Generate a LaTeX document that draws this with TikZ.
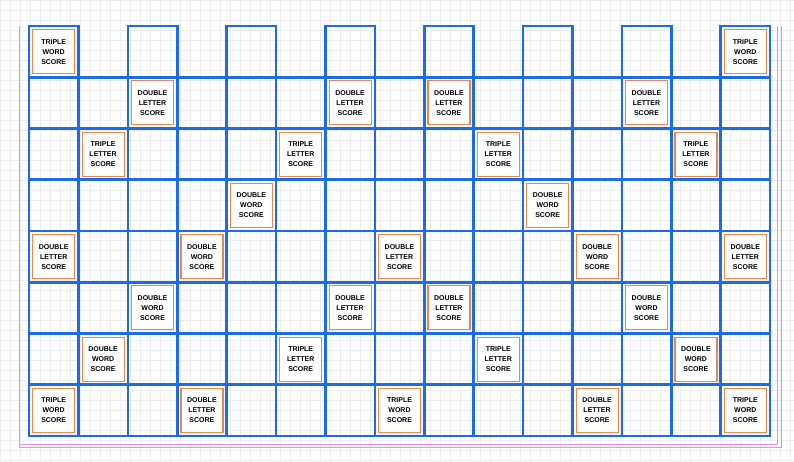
\documentclass[tikz,border=0pt]{standalone}
\usepackage{fontspec}
\setmainfont{Liberation Sans}
\begin{document}
\begin{tikzpicture}[x=1pt,y=-1pt,
  cellline/.style={draw=bblue,line width=2.6pt},
  prem/.style={draw=borange,line width=1.2pt,fill=white,minimum width=42pt,minimum height=44pt,inner sep=0pt,align=center,font=\fontsize{7}{10}\selectfont\bfseries}]
\definecolor{bblue}{RGB}{28,108,232}
\definecolor{borange}{RGB}{232,136,80}
\definecolor{bgrid}{RGB}{238,238,242}
\definecolor{bpink}{RGB}{235,140,230}
\useasboundingbox (0,0) rectangle (794,461);
\fill[white] (0,0) rectangle (794,461);
\foreach \gx in {0,10,...,790} \draw[bgrid,line width=0.3pt] (\gx,0) -- (\gx,461);
\foreach \gy in {0,10,...,460} \draw[bgrid,line width=0.3pt] (0,\gy) -- (794,\gy);
\draw[bpink,line width=0.8pt] (19,26) -- (19,447) -- (781,447) -- (781,26);
\draw[bpink,line width=0.6pt] (19,444) -- (777,444) -- (777,26);
\def\wc{49.4}\def\hc{51.25}
\def\ox{29}\def\oy{26}
\foreach \r in {1,...,8} \draw[cellline] (\ox,\oy+\r*\hc) -- (\ox+15*\wc,\oy+\r*\hc);
\foreach \c in {0,2,...,14} \draw[cellline] (\ox+\c*\wc,\oy) -- (\ox+\c*\wc+\wc,\oy);
\foreach \c in {0,...,15} \draw[cellline] (\ox+\c*\wc,\oy-1.3) -- (\ox+\c*\wc,\oy+8*\hc+1.3);
\foreach \r/\c/\t [count=\i] in {
 1/1/{TRIPLE\\WORD\\SCORE},1/15/{TRIPLE\\WORD\\SCORE},
 2/3/{DOUBLE\\LETTER\\SCORE},2/7/{DOUBLE\\LETTER\\SCORE},2/9/{DOUBLE\\LETTER\\SCORE},2/13/{DOUBLE\\LETTER\\SCORE},
 3/2/{TRIPLE\\LETTER\\SCORE},3/6/{TRIPLE\\LETTER\\SCORE},3/10/{TRIPLE\\LETTER\\SCORE},3/14/{TRIPLE\\LETTER\\SCORE},
 4/5/{DOUBLE\\WORD\\SCORE},4/11/{DOUBLE\\WORD\\SCORE},
 5/1/{DOUBLE\\LETTER\\SCORE},5/4/{DOUBLE\\WORD\\SCORE},5/8/{DOUBLE\\LETTER\\SCORE},5/12/{DOUBLE\\WORD\\SCORE},5/15/{DOUBLE\\LETTER\\SCORE},
 6/3/{DOUBLE\\WORD\\SCORE},6/7/{DOUBLE\\LETTER\\SCORE},6/9/{DOUBLE\\LETTER\\SCORE},6/13/{DOUBLE\\WORD\\SCORE},
 7/2/{DOUBLE\\WORD\\SCORE},7/6/{TRIPLE\\LETTER\\SCORE},7/10/{TRIPLE\\LETTER\\SCORE},7/14/{DOUBLE\\WORD\\SCORE},
 8/1/{TRIPLE\\WORD\\SCORE},8/4/{DOUBLE\\LETTER\\SCORE},8/8/{TRIPLE\\WORD\\SCORE},8/12/{DOUBLE\\LETTER\\SCORE},8/15/{TRIPLE\\WORD\\SCORE}}
  \node[prem] (p\i) at (\ox+\c*\wc-0.5*\wc,\oy+\r*\hc-0.5*\hc) {\t};
\end{tikzpicture}
\end{document}
